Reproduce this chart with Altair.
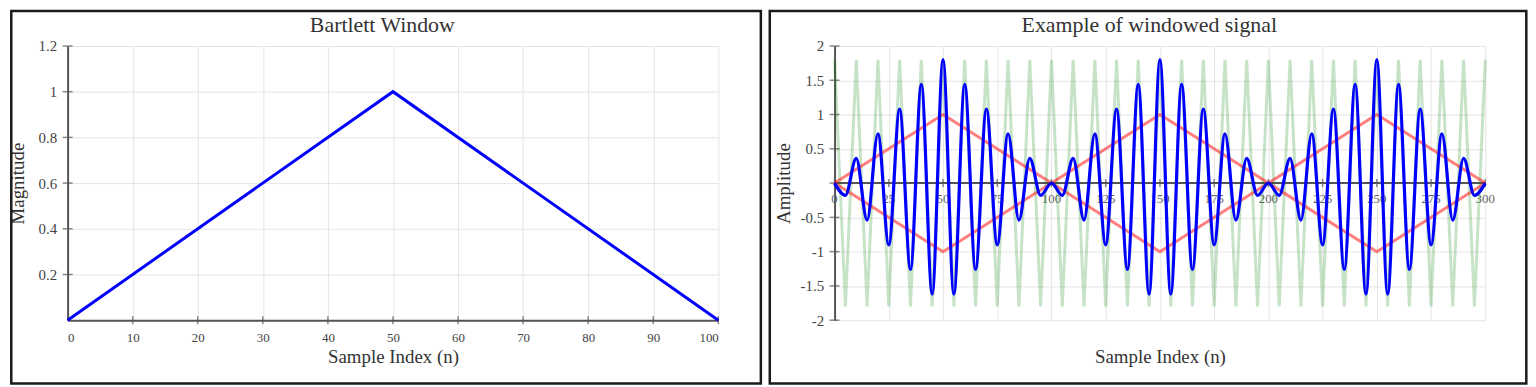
import altair as alt
import pandas as pd

# ---------------- data: left panel (Bartlett window) ----------------
window_n = [0, 50, 100]
window_mag = [0.0, 1.0, 0.0]
left_x_ticks = [0, 10, 20, 30, 40, 50, 60, 70, 80, 90, 100]
left_y_ticks = [0, 0.2, 0.4, 0.6, 0.8, 1.0, 1.2]

# ---------------- data: right panel (windowed signal) ----------------
# sample positions of the peaks / troughs (every half period = 5 samples)
signal_n = [0, 5, 10, 15, 20, 25, 30, 35, 40, 45, 50, 55, 60, 65, 70, 75, 80, 85, 90, 95,
            100, 105, 110, 115, 120, 125, 130, 135, 140, 145, 150, 155, 160, 165, 170, 175,
            180, 185, 190, 195, 200, 205, 210, 215, 220, 225, 230, 235, 240, 245, 250, 255,
            260, 265, 270, 275, 280, 285, 290, 295, 300]
carrier_peaks = [1.8, -1.8, 1.8, -1.8, 1.8, -1.8, 1.8, -1.8, 1.8, -1.8, 1.8, -1.8, 1.8, -1.8,
                 1.8, -1.8, 1.8, -1.8, 1.8, -1.8, 1.8, -1.8, 1.8, -1.8, 1.8, -1.8, 1.8, -1.8,
                 1.8, -1.8, 1.8, -1.8, 1.8, -1.8, 1.8, -1.8, 1.8, -1.8, 1.8, -1.8, 1.8, -1.8,
                 1.8, -1.8, 1.8, -1.8, 1.8, -1.8, 1.8, -1.8, 1.8, -1.8, 1.8, -1.8, 1.8, -1.8,
                 1.8, -1.8, 1.8, -1.8, 1.8]
windowed_peaks = [0.0, -0.18, 0.36, -0.54, 0.72, -0.9, 1.08, -1.26, 1.44, -1.62, 1.8,
                  -1.62, 1.44, -1.26, 1.08, -0.9, 0.72, -0.54, 0.36, -0.18, 0.0,
                  -0.18, 0.36, -0.54, 0.72, -0.9, 1.08, -1.26, 1.44, -1.62, 1.8,
                  -1.62, 1.44, -1.26, 1.08, -0.9, 0.72, -0.54, 0.36, -0.18, 0.0,
                  -0.18, 0.36, -0.54, 0.72, -0.9, 1.08, -1.26, 1.44, -1.62, 1.8,
                  -1.62, 1.44, -1.26, 1.08, -0.9, 0.72, -0.54, 0.36, -0.18, 0.0]
envelope_n = [0, 50, 100, 150, 200, 250, 300]
envelope_upper = [0, 1, 0, 1, 0, 1, 0]
envelope_lower = [0, -1, 0, -1, 0, -1, 0]
right_x_ticks = [0, 25, 50, 75, 100, 125, 150, 175, 200, 225, 250, 275, 300]
right_y_ticks = [-2, -1.5, -1, -0.5, 0, 0.5, 1, 1.5, 2]

# ---------------- styling ----------------
FONT = "Liberation Serif"
W, H = 655, 276
AXIS_DARK = "#555555"
GRID = "#e4e4e4"
LABEL_COL = "#444444"
TITLE_COL = "#333333"
ONE = alt.Data(values=[{}])


def border(left, right, top, bottom):
    return alt.Chart(ONE).mark_rect(
        fillOpacity=0, stroke="#1a1a1a", strokeWidth=2.5
    ).encode(x=alt.value(left), x2=alt.value(right), y=alt.value(top), y2=alt.value(bottom))


def heading(text, cx):
    return alt.Chart(ONE).mark_text(
        align="center", baseline="alphabetic", font=FONT, fontSize=22, color=TITLE_COL
    ).encode(x=alt.value(cx), y=alt.value(-13.6), text=alt.value(text))


# ================= LEFT =================
df_left = pd.DataFrame({"n": window_n, "v": window_mag})

xl = alt.X("n:Q", scale=alt.Scale(domain=[0, 100], nice=False, zero=False),
           axis=alt.Axis(values=left_x_ticks, title="Sample Index (n)", grid=True,
                         gridColor=GRID, domain=True, domainColor=AXIS_DARK, domainWidth=2,
                         ticks=False, labelPadding=11, labelFontSize=13, labelFont=FONT,
                         labelColor=LABEL_COL, labelOverlap=False, titleFont=FONT,
                         titleFontSize=19, titleFontWeight="normal", titleColor=TITLE_COL,
                         titleY=42.7, titleBaseline="alphabetic"))
yl = alt.Y("v:Q", scale=alt.Scale(domain=[0, 1.2], nice=False),
           axis=alt.Axis(values=left_y_ticks, title="Magnitude", grid=True, gridColor=GRID,
                         domain=True, domainColor=AXIS_DARK, domainWidth=2, ticks=False,
                         labelPadding=11, labelFontSize=15, labelFont=FONT, labelColor=LABEL_COL,
                         labelOverlap=False,
                         labelExpr="datum.value == 0 ? '' : datum.value + ''",
                         titleFont=FONT, titleFontSize=19, titleFontWeight="normal",
                         titleColor=TITLE_COL, titleX=-44.7, titleY=H / 2,
                         titleBaseline="alphabetic", titleAlign="center", titleAngle=270))

left_line = alt.Chart(df_left).mark_line(color="#0000ff", strokeWidth=3).encode(x=xl, y=yl)
left_xt = alt.Chart(pd.DataFrame({"n": left_x_ticks[1:]})).mark_tick(
    orient="vertical", size=8, thickness=1.5, color=AXIS_DARK).encode(x=xl, y=alt.datum(0))
left_yt = alt.Chart(pd.DataFrame({"v": left_y_ticks[1:]})).mark_tick(
    orient="horizontal", size=10, thickness=1.5, color=AXIS_DARK).encode(y=yl, x=alt.datum(0))

left = alt.layer(
    left_xt, left_yt, left_line, heading("Bartlett Window", 316.8),
    border(-56.7, 697.8, -35.3, 339.7)
).properties(width=W, height=H)

# ================= RIGHT =================
df_sig = pd.DataFrame({"n": signal_n, "v": windowed_peaks})
df_car = pd.DataFrame({"n": signal_n, "v": carrier_peaks})
df_env = pd.DataFrame({
    "n": envelope_n + envelope_n,
    "v": envelope_upper + envelope_lower,
    "part": ["upper"] * len(envelope_n) + ["lower"] * len(envelope_n),
})

xr = alt.X("n:Q", scale=alt.Scale(domain=[0, 300], nice=False, zero=False),
           axis=alt.Axis(values=right_x_ticks, title="Sample Index (n)", grid=True,
                         gridColor=GRID, domain=False, ticks=False, labels=False,
                         titleFont=FONT, titleFontSize=19, titleFontWeight="normal",
                         titleColor=TITLE_COL, titleY=42.7, titleBaseline="alphabetic"))
yr_axis = alt.Axis(values=right_y_ticks, title="Amplitude", grid=True, gridColor=GRID,
                   domain=True, domainColor=AXIS_DARK, domainWidth=2, ticks=False,
                   labelPadding=11, labelFontSize=15, labelFont=FONT, labelColor=LABEL_COL,
                   labelOverlap=False,
                   labelExpr="datum.value == 0 ? '' : datum.value + ''",
                   titleFont=FONT, titleFontSize=19, titleFontWeight="normal",
                   titleColor=TITLE_COL, titleX=-45.5, titleY=H / 2,
                   titleBaseline="alphabetic", titleAlign="center", titleAngle=270)
yr = alt.Y("v:Q", scale=alt.Scale(domain=[-2, 2], nice=False), axis=yr_axis)

zero_line = alt.Chart(ONE).mark_rule(color=AXIS_DARK, strokeWidth=2).encode(
    y=alt.YDatum(0, axis=yr_axis))
df_rt = pd.DataFrame({"n": right_x_ticks})
right_xt = alt.Chart(df_rt).mark_tick(
    orient="vertical", size=8, thickness=1.5, color=AXIS_DARK).encode(
    x=xr, y=alt.YDatum(0, axis=yr_axis))
right_xlab = alt.Chart(df_rt).mark_text(
    baseline="top", align="center", dy=10, fontSize=13, font=FONT, color="#666666"
).encode(x=xr, y=alt.YDatum(0, axis=yr_axis), text=alt.Text("n:Q", format="d"))
right_yt = alt.Chart(pd.DataFrame({"v": right_y_ticks})).mark_tick(
    orient="horizontal", size=10, thickness=1.5, color=AXIS_DARK).encode(y=yr, x=alt.datum(0))

green = alt.Chart(df_car).mark_line(color="#008000", opacity=0.22, strokeWidth=3).encode(x=xr, y=yr)
red = alt.Chart(df_env).mark_line(color="#ff0000", opacity=0.5, strokeWidth=3).encode(
    x=xr, y=yr, detail="part:N")
blue = alt.Chart(df_sig).mark_line(color="#0000ff", strokeWidth=3.2, interpolate="monotone").encode(
    x=xr, y=yr)

right = alt.layer(
    right_xlab, zero_line, right_xt, right_yt, green, red, blue,
    heading("Example of windowed signal", 316.8),
    border(-65.2, 696.3, -35.3, 339.7)
).properties(width=W, height=H)

chart = alt.hconcat(left, right, spacing=5).properties(
    padding=0, background="white"
).configure_view(strokeWidth=0).configure_axis(labelOverlap=False)

chart.save("out.html", embed_options={"renderer": "svg", "actions": False})
